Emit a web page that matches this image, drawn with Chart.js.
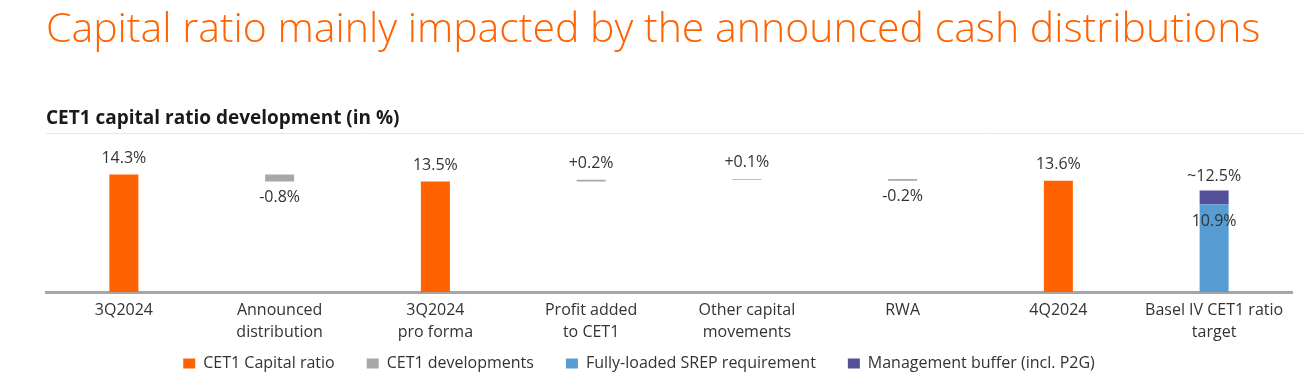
<!DOCTYPE html>
<html>
<head>
<meta charset="utf-8">
<script src="https://cdn.jsdelivr.net/npm/chart.js@4.4.1/dist/chart.umd.min.js"></script>
<style>
  html, body { margin: 0; padding: 0; background: #fff; }
  #wrap { width: 1304px; height: 378px; position: relative; }
</style>
</head>
<body>
<div id="wrap"><canvas id="chart"></canvas></div>
<script>
// Category labels (multi-line)
const categories = [
    ["3Q2024"],
    ["Announced", "distribution"],
    ["3Q2024", "pro forma"],
    ["Profit added", "to CET1"],
    ["Other capital", "movements"],
    ["RWA"],
    ["4Q2024"],
    ["Basel IV CET1 ratio", "target"],
];

// CET1 ratio levels (in %)
const capitalRatio = [14.3, null, 13.5, null, null, null, 13.6, null];
// Movements between the levels (in %)
const developments = [null, -0.8, null, 0.2, 0.1, -0.2, null, null];
// Basel IV target build-up
const srepRequirement = [null, null, null, null, null, null, null, 10.9];
const managementBuffer = [null, null, null, null, null, null, null, 1.6];

const Y_MIN = 1;
const Y_MAX = 17;

const ORANGE = "#FF6200";
const GREY = "#A8A8A8";
const BLUE = "#579DD3";
const PURPLE = "#534F99";
const FONT = "'Open Sans'";

// floating bars for the waterfall steps
let level = null;
const devBars = developments.map((d, i) => {
    if (capitalRatio[i] !== null) {
        level = capitalRatio[i];
        return null;
    }
    if (d === null) return null;
    const start = level;
    level = Math.round((level + d) * 10) / 10;
    return [start, level];
});

const bufferBars = managementBuffer.map((b, i) => (b === null ? null : [srepRequirement[i], srepRequirement[i] + b]));

const fmt = (v) => v.toFixed(1) + "%";

const valueLabels = {
    id: "valueLabels",
    afterDatasetsDraw(chart) {
        const ctx = chart.ctx;
        const y = chart.scales.y;
        ctx.save();
        ctx.font = "16px " + FONT;
        ctx.fillStyle = "#333333";
        ctx.textAlign = "center";
        ctx.textBaseline = "middle";

        chart.getDatasetMeta(0).data.forEach((bar, i) => {
            if (capitalRatio[i] === null) return;
            ctx.fillText(fmt(capitalRatio[i]), bar.x, y.getPixelForValue(capitalRatio[i]) - 16);
        });
        chart.getDatasetMeta(1).data.forEach((bar, i) => {
            const d = developments[i];
            if (d === null || !devBars[i]) return;
            const b = devBars[i][1];
            if (d > 0) {
                ctx.fillText("+" + fmt(d), bar.x, y.getPixelForValue(b) - 16);
            } else {
                ctx.fillText(fmt(d), bar.x, y.getPixelForValue(b) + 16);
            }
        });
        chart.getDatasetMeta(2).data.forEach((bar, i) => {
            if (srepRequirement[i] === null) return;
            ctx.fillText(fmt(srepRequirement[i]), bar.x, y.getPixelForValue(srepRequirement[i]) + 17);
        });
        chart.getDatasetMeta(3).data.forEach((bar, i) => {
            if (!bufferBars[i]) return;
            ctx.fillText("~" + fmt(bufferBars[i][1]), bar.x, y.getPixelForValue(bufferBars[i][1]) - 14);
        });
        ctx.restore();
    },
};

// thin rule under the chart subtitle
const subtitleRule = {
    id: "subtitleRule",
    afterDraw(chart) {
        const ctx = chart.ctx;
        ctx.save();
        ctx.strokeStyle = "#E8E8E8";
        ctx.lineWidth = 1;
        ctx.beginPath();
        ctx.moveTo(46, 133.5);
        ctx.lineTo(1304, 133.5);
        ctx.stroke();
        ctx.restore();
    },
};

// nudge the legend to where it sits in the slide
const legendShift = {
    id: "legendShift",
    afterLayout(chart) {
        const lg = chart.legend;
        const dx = -30;
        const dy = 363 - 9.6 - 30 - lg.top;
        lg.left += dx;
        lg.right += dx;
        lg.top += dy;
        lg.bottom += dy;
    },
};

const data = {
    labels: categories,
    datasets: [
        { label: "CET1 Capital ratio", data: capitalRatio, backgroundColor: ORANGE, base: Y_MIN },
        { label: "CET1 developments", data: devBars, backgroundColor: GREY },
        { label: "Fully-loaded SREP requirement", data: srepRequirement, backgroundColor: BLUE, base: Y_MIN },
        { label: "Management buffer (incl. P2G)", data: bufferBars, backgroundColor: PURPLE },
    ],
};

const options = {
    responsive: true,
    maintainAspectRatio: false,
    animation: false,
    categoryPercentage: 29 / 155.75,
    barPercentage: 1,
    layout: {
        padding: { left: 46, right: 12, top: 4, bottom: -32.2 },
    },
    plugins: {
        title: {
            display: true,
            text: "Capital ratio mainly impacted by the announced cash distributions",
            align: "start",
            color: ORANGE,
            font: { family: FONT, size: 41, weight: "300" },
            padding: { top: 2, bottom: 52 },
        },
        subtitle: {
            display: true,
            text: "CET1 capital ratio development (in %)",
            align: "start",
            color: "#1a1a1a",
            font: { family: FONT, size: 19, weight: "bold" },
            padding: { top: 0, bottom: 20.6 },
        },
        legend: {
            position: "bottom",
            labels: {
                boxWidth: 12,
                boxHeight: 10,
                padding: 32,
                color: "#333333",
                font: { family: FONT, size: 16 },
            },
        },
        tooltip: { enabled: false },
    },
    scales: {
        x: {
            stacked: true,
            grid: { display: false, drawTicks: false },
            border: { display: true, color: "#A6A6A6", width: 3 },
            ticks: {
                color: "#333333",
                font: { family: FONT, size: 16, lineHeight: 1.375 },
                padding: 7,
                maxRotation: 0,
                autoSkip: false,
            },
            afterFit(scale) {
                scale.height = 60;
            },
        },
        y: {
            display: false,
            min: Y_MIN,
            max: Y_MAX,
        },
    },
};

new Chart(document.getElementById("chart"), {
    type: "bar",
    data,
    options,
    plugins: [valueLabels, subtitleRule, legendShift],
});
</script>
</body>
</html>
